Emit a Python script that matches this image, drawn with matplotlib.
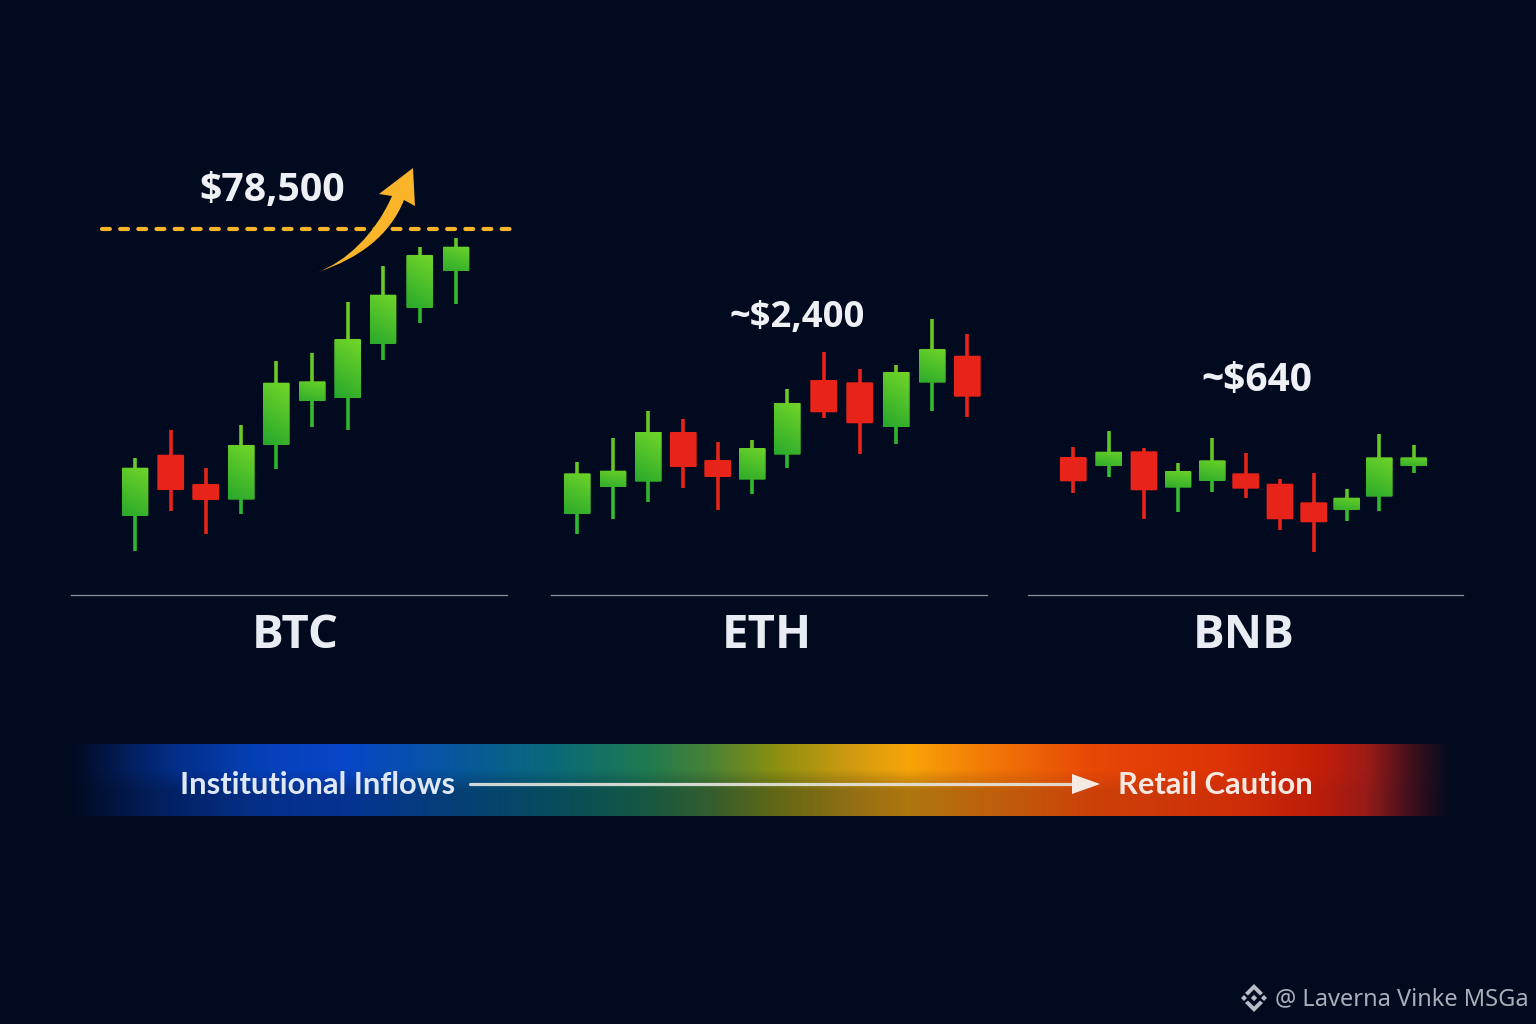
import numpy as np
import matplotlib
matplotlib.use("Agg")
import matplotlib.pyplot as plt
from matplotlib.patches import FancyBboxPatch, PathPatch, Polygon
from matplotlib.path import Path

# ---- data (candles, arbitrary price units above each baseline)
btc_open = [79, 140.3, 111, 95.3, 150, 193.7, 196.7, 251, 287, 323.7]
btc_high = [136.7, 165, 127.3, 170, 234.3, 241.7, 293.3, 329, 348.3, 357]
btc_low = [43.7, 84, 60.7, 81, 125.7, 167.7, 164.7, 235, 271.7, 291]
btc_close = [127.3, 105, 95, 150.3, 212.3, 213.7, 256, 300.3, 340, 348.3]

eth_open = [81, 107.7, 113.3, 163, 135, 115.3, 140.3, 215, 212.7, 167.7, 212.3, 239.3]
eth_high = [132.7, 156.7, 183.7, 176, 153, 154.7, 206.3, 242.7, 226.3, 229.7, 276.3, 261]
eth_low = [60.7, 76.3, 93.3, 107.3, 85.3, 101, 126.7, 177.3, 141, 150.7, 184.3, 178.3]
eth_close = [121.7, 124.3, 163.3, 128, 118, 147, 192.3, 182.7, 171.7, 223, 246, 198.3]

bnb_open = [138, 128.7, 143.7, 107.3, 114, 121.7, 111.3, 92.7, 85, 98.3, 128.7]
bnb_high = [147.7, 164, 146.7, 131.7, 157.3, 142, 115.7, 122, 106, 161, 150]
bnb_low = [102, 118, 75.7, 82.7, 103.3, 97, 64.7, 43, 74, 83.7, 122.3]
bnb_close = [113.7, 143.3, 104.7, 124, 134.7, 106.3, 75.7, 72.7, 97.3, 137.7, 137.7]

labels = ["BTC", "ETH", "BNB"]
prices = ["$78,500", "~$2,400", "~$640"]
btc_target = 366
band_title_left = "Institutional Inflows"
band_title_right = "Retail Caution"
watermark = "@ Laverna Vinke MSGa"

# ---- layout and styles
W, H = 1536, 1024
BG = "#010a1f"
FONT = "Open Sans"
FONT_BAND = "Lato"
RED = "#e8231a"
GREEN_TOP = np.array([0x7c, 0xdc, 0x28]) / 255
GREEN_BOT = np.array([0x1e, 0xa2, 0x2c]) / 255
GOLD = "#f9b42a"
BASE_Y = 595
btc_slots = [135, 170.7, 205.7, 241.3, 276.3, 312.3, 347.7, 383, 419.7, 456]
eth_slots = [577.3, 613, 648.3, 683.3, 717.7, 752.3, 787.3, 823.7, 859.7, 896.3, 932.3, 967.3]
bnb_slots = [1073.3, 1108.7, 1144, 1178, 1212.3, 1245.7, 1280, 1313.7, 1346.7, 1379.3, 1413.7]

fig = plt.figure(figsize=(W / 100, H / 100), dpi=100, facecolor=BG)
ov = fig.add_axes([0, 0, 1, 1], zorder=0)
ov.set_xlim(0, W)
ov.set_ylim(H, 0)
ov.axis("off")

# gradient band
bx0, bx1, by0, by1 = 70, 1452, 744, 816
xs = np.array([70, 95, 130, 169, 256, 344, 463, 555, 647, 710, 775, 850, 908, 977, 1091, 1229, 1321, 1367, 1413, 1452])
cols = ["010a1f", "02123a", "03205f", "032c85", "0640b8", "0846c8", "07589a", "0a6a78", "1f7a50", "4a8235",
        "8a9010", "cf9a10", "f8a508", "f47e06", "e84806", "dc3206", "c41e08", "9e1c18", "40101c", "010a1f"]
rgb = np.array([[int(c[i:i + 2], 16) / 255 for i in (0, 2, 4)] for c in cols])
nx, ny = 700, 72
gx = np.linspace(bx0, bx1, nx)
band = np.zeros((ny, nx, 3))
for k in range(3):
    band[:, :, k] = np.interp(gx, xs, rgb[:, k])
bgc = np.array([0x01, 0x0a, 0x1f]) / 255
strength = np.interp(gx, [70, 908, 1091, 1250], [0.32, 0.30, 0.12, 0.05])
vert = np.clip((np.linspace(0, 1, ny) - 0.35) / 0.3, 0, 1)
shade = 1 - strength[None, :] * vert[:, None]
band = bgc + (band - bgc) * shade[:, :, None]
ov.imshow(band, extent=(bx0, bx1, by1, by0), aspect="auto", interpolation="bilinear", zorder=1)
ov.set_xlim(0, W)
ov.set_ylim(H, 0)

ov.plot([470, 1076], [784, 784], color="#e6e6e0", lw=2.3, alpha=0.9, zorder=2, solid_capstyle="round")
ov.add_patch(Polygon([(1072, 774), (1100, 784), (1072, 794)], closed=True, fc="#f6ebe4", ec="none", zorder=3))
ov.text(317.5, 785.5, band_title_left, color="#dfe8f6", fontsize=22.2, fontweight="bold", family=FONT_BAND,
        ha="center", va="center", zorder=4)
ov.text(1215.5, 785.5, band_title_right, color="#f8e8e2", fontsize=22.2, fontweight="bold", family=FONT_BAND,
        ha="center", va="center", zorder=4)

# watermark with diamond logo
ov.text(1401.5, 999, watermark, color="#a9aeb9", fontsize=17, family="Noto Sans", ha="center", va="center", zorder=4)
lc, ly = 1254, 998
logo_col = "#b9bdc6"
def diamond(cx, cy, r):
    return [(cx, cy - r), (cx + r, cy), (cx, cy + r), (cx - r, cy)]
for cx, cy, r in [(lc, ly, 3.2), (lc - 10, ly, 3.0), (lc + 10, ly, 3.0)]:
    ov.add_patch(Polygon(diamond(cx, cy, r), closed=True, fc=logo_col, ec="none", zorder=4))
for sgn in (-1, 1):
    pts = [(lc, ly + sgn * 14), (lc + 9, ly + sgn * 5), (lc + 6, ly + sgn * 2.5), (lc, ly + sgn * 8.5),
           (lc - 6, ly + sgn * 2.5), (lc - 9, ly + sgn * 5)]
    ov.add_patch(Polygon(pts, closed=True, fc=logo_col, ec="none", zorder=4))


def candle_panel(x0, x1, slots, opens, highs, lows, closes, label, label_x):
    top = 480
    ax = fig.add_axes([x0 / W, (H - BASE_Y) / H, (x1 - x0) / W, top / H], zorder=2)
    ax.patch.set_alpha(0)
    for s in ("top", "left", "right"):
        ax.spines[s].set_visible(False)
    ax.spines["bottom"].set_color("#8b909b")
    ax.spines["bottom"].set_linewidth(0.9)
    ax.set_yticks([])
    ax.set_xticks([])
    bw = 26.8
    wick = 3.6 * 72 / 100
    for i, o, h, l, c in zip(slots, opens, highs, lows, closes):
        hi, lo = max(o, c), min(o, c)
        if c >= o:
            span = hi - lo
            f = min(span / 110, 1) * 0.5 + 0.5
            ctop = GREEN_TOP * f + (GREEN_TOP + GREEN_BOT) / 2 * (1 - f)
            cbot = GREEN_BOT * f + (GREEN_TOP + GREEN_BOT) / 2 * (1 - f)
            ax.plot([i, i], [hi - 1, h], color=ctop * 0.95, lw=wick, solid_capstyle="butt", zorder=3)
            ax.plot([i, i], [l, lo + 1], color=cbot * 1.08, lw=wick, solid_capstyle="butt", zorder=3)
            yy, xx = np.mgrid[0:1:32j, 0:1:32j]
            t = np.clip(yy * 0.8 + (0.5 - xx) * 0.25 + 0.1, 0, 1)[..., None]
            img = ctop * (1 - t) + cbot * t
            im = ax.imshow(img, extent=(i - bw / 2, i + bw / 2, lo, hi), origin="upper",
                           aspect="auto", interpolation="bilinear", zorder=4)
            clip = FancyBboxPatch((i - bw / 2, lo), bw, hi - lo, boxstyle="round,pad=0,rounding_size=1.2",
                                  transform=ax.transData, fc="none", ec="none")
            ax.add_patch(clip)
            im.set_clip_path(clip)
        else:
            ax.plot([i, i], [l, h], color=RED, lw=wick, solid_capstyle="butt", zorder=3)
            ax.add_patch(FancyBboxPatch((i - bw / 2, lo), bw, hi - lo, boxstyle="round,pad=0,rounding_size=1.2",
                                        fc=RED, ec="none", zorder=4))
    ax.set_xlim(x0, x1)
    ax.set_ylim(0, top)
    ov.text(label_x, 636, label, color="#e9ecf3", fontsize=34, fontweight="bold", family=FONT,
            ha="center", va="center", zorder=5)
    return ax


candle_panel(71, 507, btc_slots, btc_open, btc_high, btc_low, btc_close, labels[0], 295)
candle_panel(551, 987, eth_slots, eth_open, eth_high, eth_low, eth_close, labels[1], 767)
candle_panel(1028, 1463, bnb_slots, bnb_open, bnb_high, bnb_low, bnb_close, labels[2], 1244)

price_style = dict(color="#eef0f5", fontweight="bold", family=FONT, ha="center", va="center", zorder=6)
top = fig.add_axes([0, 0, 1, 1], zorder=5)
top.set_xlim(0, W)
top.set_ylim(H, 0)
top.axis("off")
top.patch.set_alpha(0)
top.text(272.5, 191, prices[0], fontsize=28.3, **price_style)
top.text(797, 318, prices[1], fontsize=26.2, **price_style)
top.text(1257, 380.5, prices[2], fontsize=28, **price_style)

# target line and arrow
top.plot([102, 516], [BASE_Y - btc_target] * 2, color=GOLD, lw=3.0, linestyle=(0, (1.88, 2.48)),
         dash_capstyle="round", zorder=2)
verts = [(318, 272), (345, 262), (375, 235), (392, 196), (379, 194), (413, 168), (415, 206), (404, 200),
         (390, 235), (360, 258), (318, 272), (318, 272)]
codes = [Path.MOVETO, Path.CURVE4, Path.CURVE4, Path.CURVE4, Path.LINETO, Path.LINETO, Path.LINETO, Path.LINETO,
         Path.CURVE4, Path.CURVE4, Path.CURVE4, Path.CLOSEPOLY]
top.add_patch(PathPatch(Path(verts, codes), fc=GOLD, ec="none", zorder=3))

fig.savefig("out.png", dpi=100, facecolor=BG)
